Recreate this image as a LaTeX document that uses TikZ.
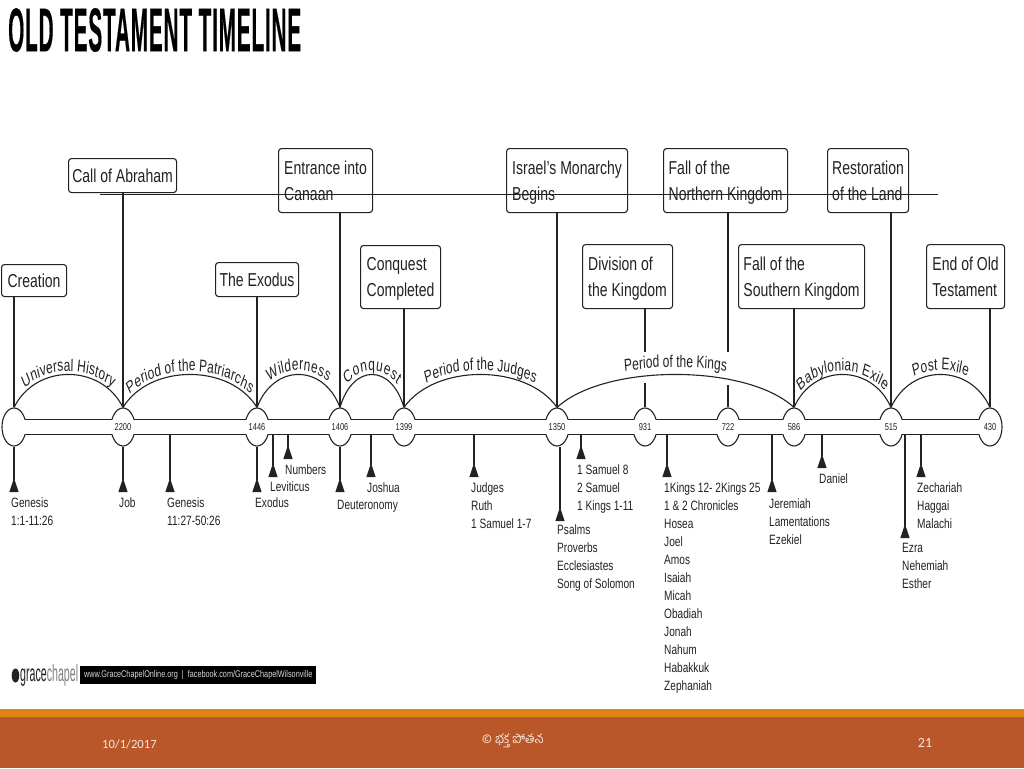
\documentclass[tikz,border=0pt]{standalone}
\usepackage{fontspec}
\setmainfont{Liberation Sans}
\usetikzlibrary{arrows.meta,decorations.text,calc,shapes.geometric}
\newfontfamily\narrowfont[FakeStretch=0.75]{Liberation Sans}
\newfontfamily\footfont{Carlito}
\newfontfamily\telugufont[Script=Telugu]{Hind Guntur}
\definecolor{inkc}{HTML}{222222}
\definecolor{bandorange}{HTML}{E08214}
\definecolor{bandbrown}{HTML}{BA5729}
\definecolor{foottext}{HTML}{F5E6DC}
\newcommand{\boxfont}{\narrowfont\fontsize{18.7}{26}\selectfont}
\newcommand{\noteFont}{\narrowfont\fontsize{13.5}{18}\selectfont}
\newcommand{\arcFont}{\fontsize{17}{20}\selectfont}
\tikzset{
  eventbox/.style={draw=inkc,line width=1.1pt,fill=white,rounded corners=3pt,inner sep=0pt,
    font=\boxfont,text=inkc,anchor=north west,align=left,text depth=0pt},
  ellipse shape/.style={shape=ellipse,minimum width=24pt,minimum height=38pt,inner sep=0pt},
  yearmark/.style={draw=inkc,line width=1.1pt,fill=white,ellipse shape},
  yearlabel/.style={font=\narrowfont\fontsize{10}{12}\selectfont,text=inkc,inner sep=0pt},
  linkline/.style={draw=inkc,line width=1.1pt},
  arcline/.style={draw=inkc,line width=1.1pt},
  refline/.style={draw=inkc,line width=1.1pt,-{Triangle[reversed,length=14pt,width=9pt,inkc]}},
  note/.style={font=\noteFont,text=inkc,anchor=north west,inner sep=0pt,align=left},
}
\begin{document}
\begin{tikzpicture}[x=1pt,y=-1pt]
\useasboundingbox (0,0) rectangle (1024,768);
\fill[white] (0,0) rectangle (1024,768);
% title
\node[anchor=north west,inner sep=0pt] (title) at (8,8)
  {\resizebox{293pt}{43pt}{\fontspec{Liberation Sans}[FakeBold=0.6,LetterSpace=4]\bfseries OLD TESTAMENT TIMELINE}};
% year marks
\foreach \n/\x in {t0/14,t1/123,t2/257,t3/340,t4/404,t5/557,t6/645,t7/728,t8/794,t9/891,t10/990}
  \node[yearmark] (\n) at (\x,427) {};
\fill[white] ([yshift=6.9pt]t0.center) rectangle ([yshift=-6.9pt]t10.center);
\foreach \a/\b in {t0/t1,t1/t2,t2/t3,t3/t4,t4/t5,t5/t6,t6/t7,t7/t8,t8/t9,t9/t10}{
  \draw[linkline] ([shift={(11,-7.5)}]\a.center) -- ([shift={(-11,-7.5)}]\b.center);
  \draw[linkline] ([shift={(11,7.5)}]\a.center) -- ([shift={(-11,7.5)}]\b.center);
}
\foreach \n/\y in {t1/2200,t2/1446,t3/1406,t4/1399,t5/1350,t6/931,t7/722,t8/586,t9/515,t10/430}
  \node[yearlabel] at (\n.center) {\y};
% event boxes
\node[eventbox,minimum width=65pt,minimum height=32pt,align=center] (creation) at (1,264) {Creation};
\node[eventbox,minimum width=108pt,minimum height=34pt,align=center] (abraham) at (68,158) {Call of Abraham};
\node[eventbox,minimum width=83pt,minimum height=34pt,align=center] (exodus) at (215,262) {The Exodus};
\node[eventbox,minimum width=94pt,minimum height=64pt] (entrance) at (278,148) {Entrance into\\Canaan};
\node[eventbox,minimum width=80pt,minimum height=63pt] (completed) at (360,245) {Conquest\\Completed};
\node[eventbox,minimum width=121pt,minimum height=64pt] (monarchy) at (506,148) {Israel’s Monarchy\\Begins};
\node[eventbox,minimum width=90pt,minimum height=64pt] (division) at (582,244) {Division of\\the Kingdom};
\node[eventbox,minimum width=124pt,minimum height=64pt] (northern) at (663,148) {Fall of the\\Northern Kingdom};
\node[eventbox,minimum width=126pt,minimum height=64pt] (southern) at (738,244) {Fall of the\\Southern Kingdom};
\node[eventbox,minimum width=81pt,minimum height=64pt] (restoration) at (827,148) {Restoration\\of the Land};
\node[eventbox,minimum width=78pt,minimum height=64pt] (endot) at (926,244) {End of Old\\Testament};
% connectors box to year
\draw[linkline] (creation.south -| t0.north) -- (t0.north);
\draw[linkline] (abraham.south -| t1.north) -- (t1.north);
\draw[linkline] (exodus.south -| t2.north) -- (t2.north);
\draw[linkline] (entrance.south -| t3.north) -- (t3.north);
\draw[linkline] (completed.south -| t4.north) -- (t4.north);
\draw[linkline] (monarchy.south -| t5.north) -- (t5.north);
\coordinate (gapAtop) at (645,352); \coordinate (gapAbot) at (645,383);
\coordinate (gapBtop) at (728,352); \coordinate (gapBbot) at (728,385);
\draw[linkline] (division.south -| t6.north) -- (gapAtop);
\draw[linkline] (gapAbot) -- (t6.north);
\draw[linkline] (northern.south -| t7.north) -- (gapBtop);
\draw[linkline] (gapBbot) -- (t7.north);
\draw[linkline] (southern.south -| t8.north) -- (t8.north);
\draw[linkline] (restoration.south -| t9.north) -- (t9.north);
\draw[linkline] (endot.south -| t10.north) -- (t10.north);
% arcs
\foreach \a/\b in {t0/t1,t1/t2,t2/t3,t3/t4,t4/t5,t5/t8,t8/t9,t9/t10}
  \draw[arcline] (\a.north) .. controls ($(\a.north)!0.2!(\b.north)+(0,-44)$) and ($(\a.north)!0.8!(\b.north)+(0,-44)$) .. (\b.north);
% arc lettering: set on the same curves, squeezed sideways like the rest of the lettering
\begin{scope}[transform canvas={xscale=0.7}]
\foreach \xa/\xb/\lab/\r in {
  14/123/Universal History/4,
  123/257/Period of the Patriarchs/4,
  257/340/Wilderness/5,
  340/404/Conquest/5,
  404/557/Period of the Judges/5,
  557/794/Period of the Kings/8,
  794/891/Babylonian Exile/4,
  891/990/Post Exile/5}
{
  \path[decorate,decoration={text along path,
      text={|\arcFont\color{inkc}|\lab},text align=center,raise=\r pt}]
    ({\xa/0.7},408) .. controls ({(\xa+0.2*(\xb-\xa))/0.7},364) and ({(\xa+0.8*(\xb-\xa))/0.7},364) .. ({\xb/0.7},408);
}
\end{scope}
% scripture reference pointers
\coordinate (pA) at (14,492);
\coordinate (pB) at (123,492);
\coordinate (pC) at (170,492);
\coordinate (pD) at (257,492);
\coordinate (pE) at (273,477);
\coordinate (pF) at (288,459);
\coordinate (pG) at (340,492);
\coordinate (pH) at (371,477);
\coordinate (pI) at (474,477);
\coordinate (pJ) at (560,521);
\coordinate (pK) at (581,459);
\coordinate (pL) at (667,477);
\coordinate (pM) at (772,492);
\coordinate (pN) at (822,468);
\coordinate (pO) at (905,538);
\coordinate (pP) at (921,477);
\coordinate (barlow) at (0,434);
\draw[refline] (t0.south) -- (pA);
\draw[refline] (t1.south) -- (pB);
\draw[refline] (pC |- barlow) -- (pC);
\draw[refline] (t2.south) -- (pD);
\draw[refline] (pE |- barlow) -- (pE);
\draw[refline] (pF |- barlow) -- (pF);
\draw[refline] (t3.south) -- (pG);
\draw[refline] (pH |- barlow) -- (pH);
\draw[refline] (pI |- barlow) -- (pI);
\draw[refline] (pJ |- t5.south) -- (pJ);
\draw[refline] (pK |- barlow) -- (pK);
\draw[refline] (pL |- barlow) -- (pL);
\draw[refline] (pM |- barlow) -- (pM);
\draw[refline] (pN |- barlow) -- (pN);
\draw[refline] (pO |- barlow) -- (pO);
\draw[refline] (pP |- barlow) -- (pP);
% notes
\node[note] (nA) at (11,498) {Genesis\\1:1-11:26};
\node[note] (nB) at (119,498) {Job};
\node[note] (nC) at (167,498) {Genesis\\11:27-50:26};
\node[note] (nD) at (255,498) {Exodus};
\node[note] (nE) at (270,482) {Leviticus};
\node[note] (nF) at (285,465) {Numbers};
\node[note] (nG) at (337,500) {Deuteronomy};
\node[note] (nH) at (367,483) {Joshua};
\node[note] (nI) at (471,483) {Judges\\Ruth\\1 Samuel 1-7};
\node[note] (nJ) at (557,525) {Psalms\\Proverbs\\Ecclesiastes\\Song of Solomon};
\node[note] (nK) at (577,465) {1 Samuel 8\\2 Samuel\\1 Kings 1-11};
\node[note] (nL) at (664,483) {1Kings 12- 2Kings 25\\1 \& 2 Chronicles\\Hosea\\Joel\\Amos\\Isaiah\\Micah\\Obadiah\\Jonah\\Nahum\\Habakkuk\\Zephaniah};
\node[note] (nM) at (769,499) {Jeremiah\\Lamentations\\Ezekiel};
\node[note] (nN) at (819,474) {Daniel};
\node[note] (nO) at (902,543) {Ezra\\Nehemiah\\Esther};
\node[note] (nP) at (917,483) {Zechariah\\Haggai\\Malachi};
% thin overlay rule
\coordinate (ruleL) at (100,194); \coordinate (ruleR) at (938,194);
\draw[inkc,line width=0.5pt] (ruleL) -- (ruleR);
% logo strip
\fill[inkc] (15.5,675.5) ellipse (3.8pt and 7pt);
\node[anchor=west,inner sep=0pt] (gracelogo) at (20,675) {\resizebox{58pt}{17pt}{\textcolor{inkc}{grace}\textcolor{black!50}{chapel}}};
\node[fill=black,minimum width=236pt,minimum height=18pt,inner sep=0pt,text=white!85!black,anchor=west] (weblink) at (80,675)
  {\narrowfont\fontsize{9.7}{12}\selectfont www.GraceChapelOnline.org\ \ |\ \ facebook.com/GraceChapelWilsonville};
% footer
\fill[bandorange] (0,709) rectangle (1024,717);
\fill[bandbrown] (0,717) rectangle (1024,768);
\node[anchor=west,inner sep=0pt,text=foottext,font=\footfont\fontsize{12.6}{14}\selectfont] (fdate) at (102,744) {10/1/2017};
\node[anchor=west,inner sep=0pt,text=foottext,font=\telugufont\fontsize{12.6}{14}\selectfont] (fcopy) at (482,741) {© భక్త పోతన};
\node[anchor=center,inner sep=0pt,text=foottext,font=\footfont\fontsize{14}{16}\selectfont] (fpage) at (925,742.5) {21};
\end{tikzpicture}
\end{document}
